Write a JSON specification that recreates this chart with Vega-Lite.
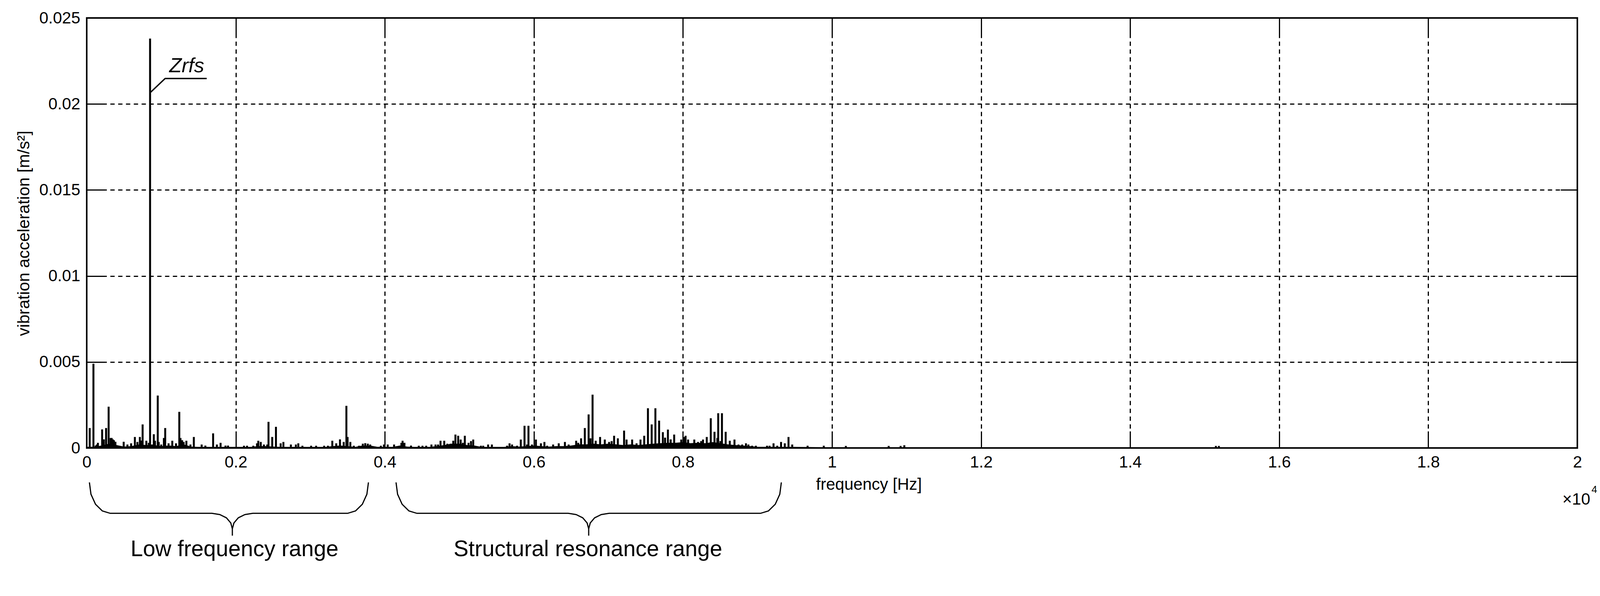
{
  "$schema": "https://vega.github.io/schema/vega-lite/v6.json",
  "width": 3816,
  "height": 1101,
  "autosize": {"type": "none"},
  "padding": {"left": 222, "top": 46, "right": 58, "bottom": 311},
  "background": "white",
  "config": {
    "view": {"stroke": "black", "strokeWidth": 4},
    "font": "Liberation Sans",
    "axis": {"labelFont": "Liberation Sans", "titleFont": "Liberation Sans", "labelColor": "black", "titleColor": "black", "tickColor": "black", "titleFontWeight": "normal"}
  },
  "datasets": {
    "spikes": [
      {"f":40,"a":0.00116},{"f":90,"a":0.0049},{"f":120,"a":0.00014},{"f":135,"a":0.0002},{"f":150,"a":0.0003},{"f":207,"a":0.00108},{"f":230,"a":0.0005},{"f":260,"a":0.00116},{"f":294,"a":0.0024},{"f":320,"a":0.00058},{"f":335,"a":0.00058},{"f":350,"a":0.0005},{"f":365,"a":0.00045},{"f":385,"a":0.00036},{"f":496,"a":0.00036},{"f":546,"a":0.0002},{"f":596,"a":0.00027},{"f":646,"a":0.00064},{"f":680,"a":0.00035},{"f":713,"a":0.00064},{"f":736,"a":0.00043},{"f":750,"a":0.00137},{"f":800,"a":0.00042},{"f":833,"a":0.0003},{"f":850,"a":0.0238},{"f":876,"a":0.0002},{"f":900,"a":0.0008},{"f":916,"a":0.00042},{"f":953,"a":0.00305},{"f":966,"a":0.00035},{"f":1000,"a":0.0002},{"f":1035,"a":0.00058},{"f":1053,"a":0.00116},{"f":1098,"a":0.00027},{"f":1148,"a":0.00042},{"f":1198,"a":0.00027},{"f":1242,"a":0.0021},{"f":1258,"a":0.00058},{"f":1280,"a":0.00045},{"f":1300,"a":0.00035},{"f":1337,"a":0.00042},{"f":1392,"a":0.0002},{"f":1437,"a":0.00064},{"f":1542,"a":0.0002},{"f":1592,"a":0.00014},{"f":1696,"a":0.00085},{"f":1746,"a":0.0002},{"f":1796,"a":0.0003},{"f":1862,"a":0.00014},{"f":1896,"a":0.00014},
      {"f":2110,"a":0.00013},{"f":2151,"a":0.00013},{"f":2235,"a":0.00013},{"f":2285,"a":0.00027},{"f":2302,"a":0.00042},{"f":2335,"a":0.00035},{"f":2377,"a":0.0002},{"f":2422,"a":0.0002},{"f":2439,"a":0.00152},{"f":2489,"a":0.00064},{"f":2539,"a":0.00123},{"f":2602,"a":0.00027},{"f":2639,"a":0.00035},{"f":2739,"a":0.0002},{"f":2806,"a":0.0002},{"f":2839,"a":0.00027},{"f":2894,"a":0.00013},{"f":3011,"a":0.00013},{"f":3078,"a":0.00013},{"f":3186,"a":0.00013},{"f":3236,"a":0.00013},{"f":3295,"a":0.00042},{"f":3348,"a":0.00027},{"f":3398,"a":0.0005},{"f":3448,"a":0.00035},{"f":3484,"a":0.00245},{"f":3500,"a":0.00064},{"f":3537,"a":0.00035},{"f":3584,"a":0.00013},{"f":3654,"a":0.00013},{"f":3704,"a":0.00025},{"f":3737,"a":0.00028},{"f":3771,"a":0.00025},{"f":3804,"a":0.0002},{"f":3946,"a":0.00013},{"f":3988,"a":0.0002},
      {"f":4038,"a":0.0002},{"f":4124,"a":0.0002},{"f":4222,"a":0.0003},{"f":4238,"a":0.00042},{"f":4263,"a":0.0003},{"f":4351,"a":0.00014},{"f":4455,"a":0.00013},{"f":4505,"a":0.00013},{"f":4555,"a":0.00013},{"f":4625,"a":0.0002},{"f":4680,"a":0.0002},{"f":4714,"a":0.0002},{"f":4747,"a":0.00042},{"f":4797,"a":0.00042},{"f":4839,"a":0.00025},{"f":4881,"a":0.00025},{"f":4918,"a":0.00042},{"f":4947,"a":0.00078},{"f":4984,"a":0.00071},{"f":5017,"a":0.00049},{"f":5047,"a":0.0003},{"f":5073,"a":0.00071},{"f":5123,"a":0.0003},{"f":5156,"a":0.0004},{"f":5186,"a":0.00049},{"f":5289,"a":0.00013},{"f":5320,"a":0.00013},{"f":5386,"a":0.0002},{"f":5436,"a":0.0002},{"f":5640,"a":0.00013},{"f":5673,"a":0.00027},{"f":5707,"a":0.0002},{"f":5774,"a":0.00013},{"f":5824,"a":0.00049},{"f":5874,"a":0.00129},{"f":5907,"a":0.0002},{"f":5927,"a":0.00129},{"f":5974,"a":0.0002},
      {"f":6027,"a":0.00049},{"f":6094,"a":0.00027},{"f":6141,"a":0.00035},{"f":6178,"a":0.00013},{"f":6258,"a":0.0002},{"f":6333,"a":0.00027},{"f":6416,"a":0.00035},{"f":6466,"a":0.0002},{"f":6567,"a":0.00042},{"f":6595,"a":0.0003},{"f":6633,"a":0.00056},{"f":6683,"a":0.00116},{"f":6734,"a":0.00195},{"f":6759,"a":0.00056},{"f":6787,"a":0.0031},{"f":6829,"a":0.00042},{"f":6888,"a":0.00064},{"f":6951,"a":0.00049},{"f":7009,"a":0.00035},{"f":7043,"a":0.0004},{"f":7076,"a":0.00071},{"f":7126,"a":0.00056},{"f":7210,"a":0.00101},{"f":7243,"a":0.00049},{"f":7318,"a":0.00049},{"f":7377,"a":0.00027},{"f":7430,"a":0.00049},{"f":7480,"a":0.00071},{"f":7530,"a":0.00231},{"f":7580,"a":0.00137},{"f":7630,"a":0.00231},{"f":7680,"a":0.00159},{"f":7730,"a":0.00092},{"f":7760,"a":0.0006},{"f":7798,"a":0.00107},{"f":7835,"a":0.0005},{"f":7882,"a":0.00078},{"f":7977,"a":0.00049},{"f":8018,"a":0.00064},
      {"f":8035,"a":0.00071},{"f":8069,"a":0.00049},{"f":8119,"a":0.00027},{"f":8152,"a":0.00049},{"f":8202,"a":0.00035},{"f":8244,"a":0.0004},{"f":8269,"a":0.00049},{"f":8319,"a":0.00064},{"f":8373,"a":0.00173},{"f":8423,"a":0.00094},{"f":8461,"a":0.00058},{"f":8473,"a":0.00202},{"f":8503,"a":0.0004},{"f":8523,"a":0.00202},{"f":8573,"a":0.00094},{"f":8603,"a":0.0002},{"f":8628,"a":0.00042},{"f":8691,"a":0.00049},{"f":8745,"a":0.0002},{"f":8795,"a":0.0002},{"f":8845,"a":0.00027},{"f":8878,"a":0.0002},{"f":8928,"a":0.00013},{"f":8978,"a":0.00013},{"f":9128,"a":0.00013},{"f":9162,"a":0.00013},{"f":9215,"a":0.00027},{"f":9265,"a":0.00013},{"f":9316,"a":0.00035},{"f":9366,"a":0.00027},{"f":9416,"a":0.00064},{"f":9466,"a":0.0002},{"f":9672,"a":0.00013},{"f":9889,"a":0.00013},
      {"f":10185,"a":0.00012},{"f":10760,"a":0.00012},{"f":10920,"a":0.00012},{"f":10970,"a":0.00016},{"f":15150,"a":0.00012},{"f":15190,"a":0.00012}
    ],
    "floor": [
      {"f":0,"a":0.00007},{"f":100,"a":0.00007},{"f":200,"a":0.00014},{"f":300,"a":0.00025},{"f":400,"a":0.00017},{"f":500,"a":0.00008},{"f":600,"a":0.00011},{"f":700,"a":0.0002},{"f":800,"a":0.00017},{"f":900,"a":0.00017},{"f":1000,"a":0.00011},{"f":1100,"a":0.00014},{"f":1200,"a":0.00011},{"f":1300,"a":0.00021},{"f":1400,"a":0.00008},{"f":1500,"a":0.00006},{"f":2200,"a":0.00006},{"f":2300,"a":0.00011},{"f":2400,"a":0.00011},{"f":2500,"a":0.00008},{"f":2600,"a":0.00006},{"f":3200,"a":0.00006},{"f":3300,"a":0.00011},{"f":3400,"a":0.00014},{"f":3500,"a":0.00011},{"f":3600,"a":0.00006},{"f":3700,"a":0.00014},{"f":3800,"a":0.00014},{"f":3900,"a":0.00007},{"f":4000,"a":0.00007},{"f":4100,"a":0.00006},{"f":4200,"a":0.00014},{"f":4300,"a":0.00008},{"f":4400,"a":0.00006},{"f":4600,"a":0.00006},{"f":4700,"a":0.00011},{"f":4800,"a":0.00017},{"f":4900,"a":0.00025},{"f":5000,"a":0.00025},{"f":5100,"a":0.00017},{"f":5200,"a":0.00014},{"f":5300,"a":0.00006},{"f":5600,"a":0.00006},{"f":5700,"a":0.00011},{"f":5800,"a":0.00008},{"f":5900,"a":0.00011},{"f":6000,"a":0.00014},{"f":6100,"a":0.00011},{"f":6200,"a":0.00008},{"f":6300,"a":0.00011},{"f":6400,"a":0.00011},{"f":6500,"a":0.00014},{"f":6600,"a":0.00021},{"f":6700,"a":0.00021},{"f":6800,"a":0.00025},{"f":6900,"a":0.00021},{"f":7000,"a":0.00025},{"f":7100,"a":0.00021},{"f":7200,"a":0.00017},{"f":7300,"a":0.00021},{"f":7400,"a":0.00017},{"f":7500,"a":0.00021},{"f":7600,"a":0.00025},{"f":7700,"a":0.00028},{"f":7800,"a":0.0003},{"f":7900,"a":0.0003},{"f":8000,"a":0.00034},{"f":8100,"a":0.00028},{"f":8200,"a":0.0003},{"f":8300,"a":0.00028},{"f":8400,"a":0.00034},{"f":8500,"a":0.00028},{"f":8600,"a":0.00021},{"f":8700,"a":0.00017},{"f":8800,"a":0.00014},{"f":8900,"a":0.00011},{"f":9000,"a":0.00007},{"f":9500,"a":0.00006},{"f":10000,"a":0.00004},{"f":20000,"a":0.00004}
    ],
    "braces": [
      {"b":"low","i":0,"f":36,"a":-0.002},{"b":"low","i":1,"f":57,"a":-0.00269},{"b":"low","i":2,"f":118,"a":-0.00327},{"b":"low","i":3,"f":209,"a":-0.00366},{"b":"low","i":4,"f":316,"a":-0.0038},{"b":"low","i":5,"f":1680,"a":-0.0038},{"b":"low","i":6,"f":1785,"a":-0.00387},{"b":"low","i":7,"f":1874,"a":-0.00406},{"b":"low","i":8,"f":1933,"a":-0.00436},{"b":"low","i":9,"f":1954,"a":-0.0047},{"b":"low","i":10,"f":1954,"a":-0.0051},{"b":"low","i":11,"f":1954,"a":-0.0047},{"b":"low","i":12,"f":1975,"a":-0.00436},{"b":"low","i":13,"f":2034,"a":-0.00406},{"b":"low","i":14,"f":2123,"a":-0.00387},{"b":"low","i":15,"f":2228,"a":-0.0038},{"b":"low","i":16,"f":3500,"a":-0.0038},{"b":"low","i":17,"f":3607,"a":-0.00366},{"b":"low","i":18,"f":3698,"a":-0.00327},{"b":"low","i":19,"f":3759,"a":-0.00269},{"b":"low","i":20,"f":3780,"a":-0.002},
      {"b":"str","i":0,"f":4150,"a":-0.002},{"b":"str","i":1,"f":4171,"a":-0.00269},{"b":"str","i":2,"f":4232,"a":-0.00327},{"b":"str","i":3,"f":4323,"a":-0.00366},{"b":"str","i":4,"f":4430,"a":-0.0038},{"b":"str","i":5,"f":6461,"a":-0.0038},{"b":"str","i":6,"f":6566,"a":-0.00387},{"b":"str","i":7,"f":6655,"a":-0.00406},{"b":"str","i":8,"f":6714,"a":-0.00436},{"b":"str","i":9,"f":6735,"a":-0.0047},{"b":"str","i":10,"f":6735,"a":-0.0051},{"b":"str","i":11,"f":6735,"a":-0.0047},{"b":"str","i":12,"f":6756,"a":-0.00436},{"b":"str","i":13,"f":6815,"a":-0.00406},{"b":"str","i":14,"f":6904,"a":-0.00387},{"b":"str","i":15,"f":7009,"a":-0.0038},{"b":"str","i":16,"f":9040,"a":-0.0038},{"b":"str","i":17,"f":9147,"a":-0.00366},{"b":"str","i":18,"f":9238,"a":-0.00327},{"b":"str","i":19,"f":9299,"a":-0.00269},{"b":"str","i":20,"f":9320,"a":-0.002}
    ],
    "leader": [
      {"i":0,"f":850,"a":0.02065},{"i":1,"f":1052,"a":0.02148},{"i":2,"f":1610,"a":0.02148}
    ],
    "rangeLabels": [
      {"t":"Low frequency range","f":1983,"a":-0.0063},
      {"t":"Structural resonance range","f":6725,"a":-0.0063}
    ],
    "peakLabel": [{"t":"Zrfs","f":1107,"a":0.02185}],
    "expLabel": [{"t":"×10","f":19800,"a":-0.0033}],
    "expSup": [{"t":"4","f":20190,"a":-0.0026}]
  },
  "resolve": {"axis": {"x": "independent", "y": "independent"}},
  "layer": [
    {
      "data": {"name": "floor"},
      "mark": {"type": "area", "color": "black", "opacity": 1},
      "encoding": {
        "x": {"field": "f", "type": "quantitative",
          "scale": {"domain": [0, 20000], "nice": false, "zero": false},
          "axis": {
            "values": [0,2000,4000,6000,8000,10000,12000,14000,16000,18000,20000],
            "labelExpr": "datum.value/10000",
            "domain": false,
            "tickSize": -43, "tickWidth": 3,
            "labelPadding": 59, "labelFontSize": 42, "labelFlush": false, "labelOverlap": false,
            "grid": true, "gridColor": "black", "gridDash": [11, 9], "gridWidth": 3, "gridOpacity": 1,
            "title": "frequency [Hz]", "titleFontSize": 42,
            "titleX": 2002, "titleY": 93, "titleBaseline": "middle", "titleAlign": "center"
          }
        },
        "y": {"field": "a", "type": "quantitative",
          "scale": {"domain": [0, 0.025], "nice": false, "zero": false},
          "axis": {
            "values": [0, 0.005, 0.01, 0.015, 0.02, 0.025],
            "format": "~g",
            "domain": false,
            "tickSize": -43, "tickWidth": 3,
            "labelPadding": 60, "labelFontSize": 42, "labelFlush": false, "labelOverlap": false,
            "grid": true, "gridColor": "black", "gridDash": [11, 9], "gridWidth": 3, "gridOpacity": 1,
            "title": "vibration acceleration [m/s²]", "titleFontSize": 43,
            "titleAngle": 270, "titleX": -148, "titleY": 551, "titleAlign": "center", "titleBaseline": "alphabetic"
          }
        }
      }
    },
    {
      "data": {"name": "spikes"},
      "mark": {"type": "rule", "color": "black", "strokeWidth": 5},
      "encoding": {
        "x": {"field": "f", "type": "quantitative",
          "scale": {"domain": [0, 20000], "nice": false, "zero": false},
          "axis": {"orient": "top", "values": [0,2000,4000,6000,8000,10000,12000,14000,16000,18000,20000],
            "labels": false, "domain": false, "grid": false, "tickSize": -43, "tickWidth": 3, "title": null}
        },
        "y": {"field": "a", "type": "quantitative",
          "scale": {"domain": [0, 0.025], "nice": false, "zero": false},
          "axis": {"orient": "right", "values": [0, 0.005, 0.01, 0.015, 0.02, 0.025],
            "labels": false, "domain": false, "grid": false, "tickSize": -43, "tickWidth": 3, "title": null}
        },
        "y2": {"datum": 0}
      }
    },
    {
      "data": {"name": "braces"},
      "mark": {"type": "line", "color": "black", "strokeWidth": 3, "clip": false},
      "encoding": {
        "x": {"field": "f", "type": "quantitative", "scale": {"domain": [0, 20000], "nice": false, "zero": false}, "axis": null},
        "y": {"field": "a", "type": "quantitative", "scale": {"domain": [0, 0.025], "nice": false, "zero": false}, "axis": null},
        "detail": {"field": "b"},
        "order": {"field": "i", "type": "quantitative"}
      }
    },
    {
      "data": {"name": "leader"},
      "mark": {"type": "line", "color": "black", "strokeWidth": 3.5},
      "encoding": {
        "x": {"field": "f", "type": "quantitative", "scale": {"domain": [0, 20000], "nice": false, "zero": false}, "axis": null},
        "y": {"field": "a", "type": "quantitative", "scale": {"domain": [0, 0.025], "nice": false, "zero": false}, "axis": null},
        "order": {"field": "i", "type": "quantitative"}
      }
    },
    {
      "data": {"name": "rangeLabels"},
      "mark": {"type": "text", "color": "black", "fontSize": 57, "align": "center", "baseline": "alphabetic", "font": "Liberation Sans"},
      "encoding": {
        "x": {"field": "f", "type": "quantitative", "scale": {"domain": [0, 20000], "nice": false, "zero": false}, "axis": null},
        "y": {"field": "a", "type": "quantitative", "scale": {"domain": [0, 0.025], "nice": false, "zero": false}, "axis": null},
        "text": {"field": "t"}
      }
    },
    {
      "data": {"name": "peakLabel"},
      "mark": {"type": "text", "color": "black", "fontSize": 52, "fontStyle": "italic", "align": "left", "baseline": "alphabetic", "font": "Liberation Sans"},
      "encoding": {
        "x": {"field": "f", "type": "quantitative", "scale": {"domain": [0, 20000], "nice": false, "zero": false}, "axis": null},
        "y": {"field": "a", "type": "quantitative", "scale": {"domain": [0, 0.025], "nice": false, "zero": false}, "axis": null},
        "text": {"field": "t"}
      }
    },
    {
      "data": {"name": "expLabel"},
      "mark": {"type": "text", "color": "black", "fontSize": 42, "align": "left", "baseline": "alphabetic", "font": "Liberation Sans"},
      "encoding": {
        "x": {"field": "f", "type": "quantitative", "scale": {"domain": [0, 20000], "nice": false, "zero": false}, "axis": null},
        "y": {"field": "a", "type": "quantitative", "scale": {"domain": [0, 0.025], "nice": false, "zero": false}, "axis": null},
        "text": {"field": "t"}
      }
    },
    {
      "data": {"name": "expSup"},
      "mark": {"type": "text", "color": "black", "fontSize": 26, "align": "left", "baseline": "alphabetic", "font": "Liberation Sans"},
      "encoding": {
        "x": {"field": "f", "type": "quantitative", "scale": {"domain": [0, 20000], "nice": false, "zero": false}, "axis": null},
        "y": {"field": "a", "type": "quantitative", "scale": {"domain": [0, 0.025], "nice": false, "zero": false}, "axis": null},
        "text": {"field": "t"}
      }
    }
  ]
}
